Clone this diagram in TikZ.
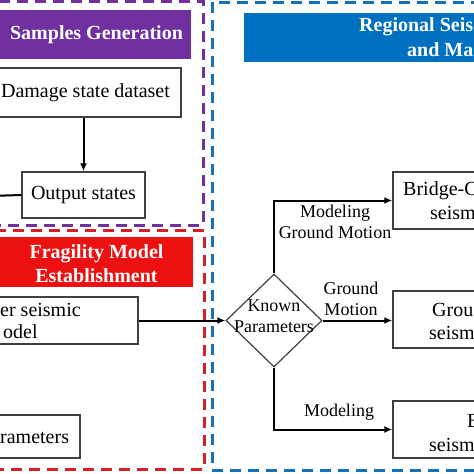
\documentclass[tikz,border=0pt]{standalone}
\usepackage{fontspec}
\setmainfont{Liberation Serif}
\usetikzlibrary{shapes.geometric,arrows.meta}
\definecolor{sgpurple}{RGB}{112,48,160}
\definecolor{fmred}{RGB}{236,16,16}
\definecolor{fmdash}{RGB}{214,32,38}
\definecolor{rsblue}{RGB}{0,112,192}
\definecolor{rsdash}{RGB}{22,112,186}
\tikzset{
  frame/.style={line width=3pt,dash pattern=on 11pt off 7pt},
  head/.style={text=white,font=\fontsize{20}{24}\selectfont\bfseries,align=center,inner sep=0pt},
  box/.style={draw=black!75,line width=1.4pt,fill=white,inner sep=0pt},
  cut/.style={anchor=west,inner sep=0pt},
  lbl/.style={font=\fontsize{18}{21}\selectfont,align=center,inner sep=0pt},
  diam/.style={diamond,draw=black!75,line width=1.2pt,minimum width=96pt,minimum height=93pt,inner sep=0pt},
  conn/.style={line width=2pt},
  arr/.style={conn,-{Latex[length=8pt,width=7pt]}}
}
\begin{document}
\begin{tikzpicture}[x=1pt,y=-1pt,font=\fontsize{20}{24}\selectfont]
\useasboundingbox (0,0) rectangle (474,474);
\clip (0,0) rectangle (474,474);
% group frames
\draw[frame,draw=sgpurple] (-20,1) rectangle (203,225);
\draw[frame,draw=fmdash] (-20,230) rectangle (204,469);
\draw[frame,draw=rsdash] (212,2) rectangle (500,470);
% headers
\path[fill=sgpurple] (-10,10) rectangle (191,59);
\node[head] (sghead) at (96.5,34.5) {Samples Generation};
\path[fill=fmred] (-10,237) rectangle (193,287);
\node[head] (fmhead) at (96.5,264) {Fragility Model\\Establishment};
\path[fill=rsblue] (244,13) rectangle (500,62);
\node[head,anchor=west] (rshead1) at (359,27) {Regional Seis};
\node[head,anchor=west] (rshead2) at (407,50) {and Ma};
% samples generation
\node[box,minimum width=191pt,minimum height=49pt] (dsd) at (85.5,92.5) {Damage state dataset};
\node[box,minimum width=123pt,minimum height=46pt] (out) at (83.5,195) {Output states};
\coordinate (outin) at (-10,196);
\draw[arr] (out.north |- dsd.south) -- (out.north);
\draw[conn] (outin) -- (out.west);
% fragility model
\node[box,minimum width=148pt,minimum height=47pt] (fsm) at (64,320.5) {};
\node[cut] at (0,310) {er seismic};
\node[cut] at (3,332) {odel};
\node[box,minimum width=90pt,minimum height=43pt] (par) at (35,436.5) {};
\node[cut] at (0,438) {rameters};
% regional assessment
\node[diam] (kp) at (274,320.5) {};
\node[lbl] at (274,316) {Known\\Parameters};
\node[box,minimum width=120pt,minimum height=57pt] (bcs) at (453,200.5) {};
\node[cut] at (403,191) {Bridge-C};
\node[cut] at (430,213) {seism};
\node[box,minimum width=120pt,minimum height=57pt] (gms) at (453,319.5) {};
\node[cut] at (432,310) {Grou};
\node[cut] at (429,333) {seism};
\node[box,minimum width=120pt,minimum height=57pt] (bss) at (453,429.5) {};
\node[cut] at (467,421) {B};
\node[cut] at (429,445) {seism};
% connectors
\draw[arr] (fsm.east) -- (kp.west);
\draw[arr] (kp.north) |- (bcs.west);
\draw[arr] (kp.east) -- (kp.east -| gms.west);
\draw[arr] (kp.south) |- (bss.west);
\node[lbl] at (335,222) {Modeling\\Ground Motion};
\node[lbl] at (351,299) {Ground\\Motion};
\node[lbl] at (339,412) {Modeling};
\end{tikzpicture}
\end{document}
